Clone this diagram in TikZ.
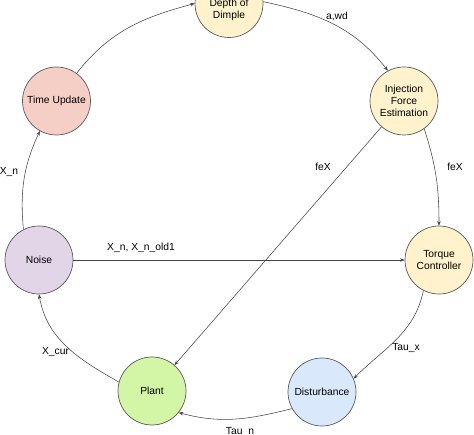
\documentclass[tikz,border=0pt]{standalone}
\usepackage{fontspec}
\setmainfont{Liberation Sans}
\usetikzlibrary{arrows.meta}
\definecolor{yel}{HTML}{FFF2CC}
\definecolor{red}{HTML}{F5CFC6}
\definecolor{pur}{HTML}{E1D5E7}
\definecolor{grn}{HTML}{D2F5A6}
\definecolor{blu}{HTML}{DAE8FC}
\definecolor{bord}{HTML}{5A5A5A}
\definecolor{edg}{HTML}{444444}
\tikzset{
  state/.style={circle, draw=bord, line width=0.7pt, minimum size=68pt, inner sep=0pt, align=center, font=\fontsize{10.3}{12}\selectfont},
  lbl/.style={font=\fontsize{10.3}{12}\selectfont, inner sep=0pt, align=center},
  edge/.style={draw=edg, line width=0.55pt, -{Stealth[length=4.5pt,width=3.5pt]}}
}
\begin{document}
\begin{tikzpicture}[x=1pt,y=1pt]
\useasboundingbox (0,0) rectangle (474,-435);
\clip (0,0) rectangle (474,-435);
\node[state, fill=yel] (dd) at (229,-3.5) {};
\node[lbl] (ddt) at (229,-10) {Depth of\\Dimple};
\node[state, fill=red] (tu) at (56.5,-101) {Time Update};
\node[state, fill=yel] (ife) at (404,-101) {Injection\\Force\\Estimation};
\node[state, fill=pur] (noise) at (39,-260) {Noise};
\node[state, fill=yel] (tc) at (439,-260) {Torque\\Controller};
\node[state, fill=grn] (plant) at (152,-391) {Plant};
\node[state, fill=blu] (dist) at (322,-392) {Disturbance};

\draw[edge] (tu.54) to[out=52, in=195] (dd.180);
\draw[edge] (dd.3) to[out=-12, in=128] (ife.118);
\draw[edge] (ife.-54) to[out=-72, in=90] (tc.90);
\draw[edge] (tc.-117) to[out=-102, in=45] (dist.23);
\draw[edge] (dist.-151) to[out=-166, in=-15] (plant.-39);
\draw[edge] (plant.165) to[out=150, in=-80] (noise.-90);
\draw[edge] (noise.117) to[out=95, in=-115] (tu.-119);
\draw[edge] (ife) -- (plant);
\draw[edge] (noise) -- (tc);

\node[lbl] (l1) at (337,-16) {a,wd};
\node[lbl] (l2) at (323,-167) {feX};
\node[lbl] (l3) at (455,-167) {feX};
\node[lbl] (l4) at (9,-172) {X\_n};
\node[lbl] (l5) at (141,-248) {X\_n, X\_n\_old1};
\node[lbl] (l6) at (55.5,-352) {X\_cur};
\node[lbl] (l7) at (406,-348) {Tau\_x};
\node[lbl] (l8) at (240,-431.5) {Tau\_n};
\end{tikzpicture}
\end{document}
